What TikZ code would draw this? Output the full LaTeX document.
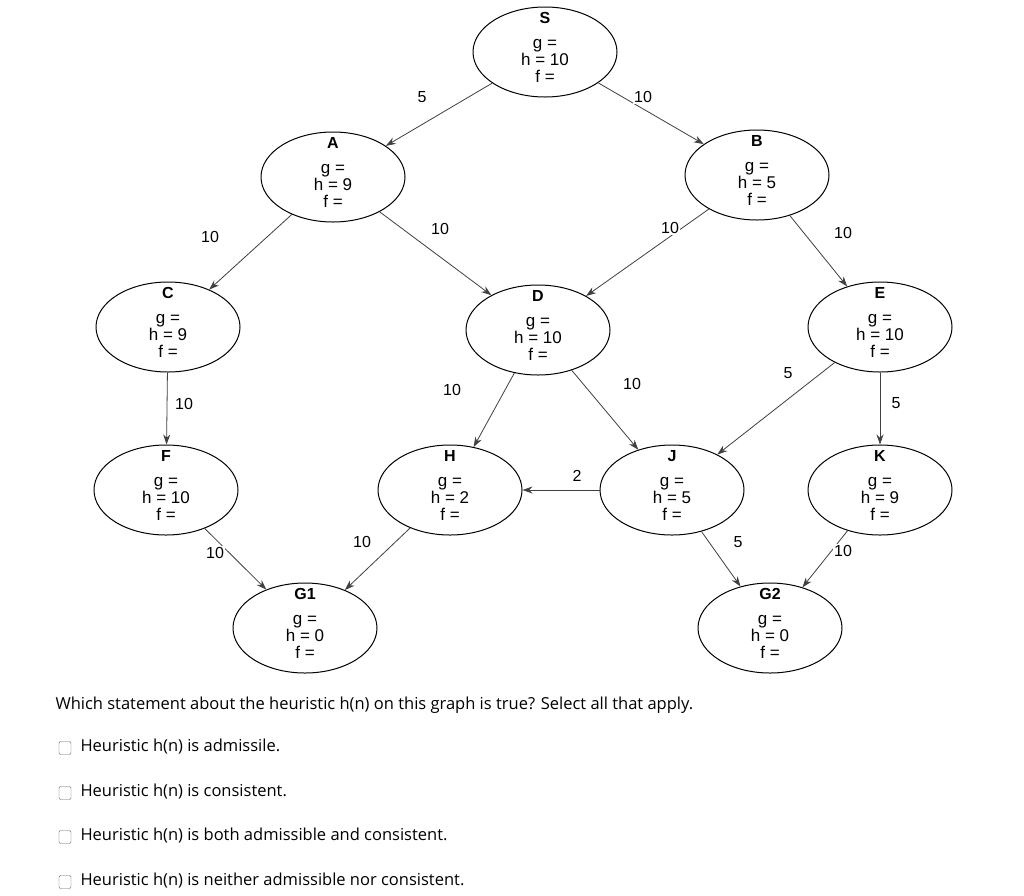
\documentclass[tikz,border=0pt]{standalone}
\usepackage{fontspec}
\setmainfont{Liberation Sans}
\newfontfamily\qfont{Open Sans}
\usetikzlibrary{shapes.geometric,arrows.meta,calc}
\newcommand{\mkstate}[4]{%
  \node[st] (#1) at (#2) {};
  \node[font=\bfseries\fontsize{16}{18}\selectfont] at ($(#2)+(0,-34)$) {#3};
  \node[font=\fontsize{17}{18}\selectfont,align=center] at ($(#2)+(0,9)$) {g =\\[-1pt] h = #4\\[-1pt] f =};}
\begin{document}
\begin{tikzpicture}[x=1pt,y=-1pt,
  st/.style={ellipse,draw,line width=1pt,minimum width=144pt,minimum height=90pt,inner sep=0pt},
  ar/.style={draw=black!75,line width=0.8pt,-{Stealth[length=10pt,width=7pt]}},
  lb/.style={font=\fontsize{16}{18}\selectfont,fill=white,inner sep=1pt},
  q/.style={anchor=west,font=\qfont\fontsize{16.5}{20}\selectfont},
  cb/.style={draw=black!60,rounded corners=2pt,minimum width=12pt,minimum height=13pt,inner sep=0pt}]
\useasboundingbox[fill=white] (0,0) rectangle (1024,895);
\mkstate{S}{545,52}{S}{10}
\mkstate{A}{333,177}{A}{9}
\mkstate{B}{757,175}{B}{5}
\mkstate{C}{168,327}{C}{9}
\mkstate{D}{538,330}{D}{10}
\mkstate{E}{880,327}{E}{10}
\mkstate{F}{166,490}{F}{10}
\mkstate{H}{450,490}{H}{2}
\mkstate{J}{672,490}{J}{5}
\mkstate{K}{880,490}{K}{9}
\mkstate{G1}{305,628}{G1}{0}
\mkstate{G2}{770,628}{G2}{0}
\draw[ar] (S) -- (A); \draw[ar] (S) -- (B);
\draw[ar] (A) -- (C); \draw[ar] (A) -- (D);
\draw[ar] (B) -- (D); \draw[ar] (B) -- (E);
\draw[ar] (C) -- (F); \draw[ar] (D) -- (H);
\draw[ar] (D) -- (J); \draw[ar] (E) -- (J);
\draw[ar] (E) -- (K); \draw[ar] (J) -- (H);
\draw[ar] (F) -- (G1); \draw[ar] (H) -- (G1);
\draw[ar] (J) -- (G2); \draw[ar] (K) -- (G2);
\node[lb] (l1) at (422,97) {5};
\node[lb] (l2) at (643,97) {10};
\node[lb] (l3) at (210,237) {10};
\node[lb] (l4) at (440,229) {10};
\node[lb] (l5) at (670,228) {10};
\node[lb] (l6) at (843,233) {10};
\node[lb] (l7) at (184,404) {10};
\node[lb] (l8) at (452,390) {10};
\node[lb] (l9) at (632,384) {10};
\node[lb] (l10) at (788,373) {5};
\node[lb] (l11) at (896,403) {5};
\node[lb] (l12) at (577,476) {2};
\node[lb] (l13) at (215,553) {10};
\node[lb] (l14) at (362,542) {10};
\node[lb] (l15) at (738,542) {5};
\node[lb] (l16) at (843,551) {10};
\node[q] (qq) at (52,705) {Which statement about the heuristic h(n) on this graph is true? Select all that apply.};
\node[cb] (c1) at (65,748) {}; \node[q] (o1) at (77,747) {Heuristic h(n) is admissile.};
\node[cb] (c2) at (65,793) {}; \node[q] (o2) at (77,792) {Heuristic h(n) is consistent.};
\node[cb] (c3) at (65,837) {}; \node[q] (o3) at (77,836) {Heuristic h(n) is both admissible and consistent.};
\node[cb] (c4) at (65,882) {}; \node[q] (o4) at (77,881) {Heuristic h(n) is neither admissible nor consistent.};
\end{tikzpicture}
\end{document}
